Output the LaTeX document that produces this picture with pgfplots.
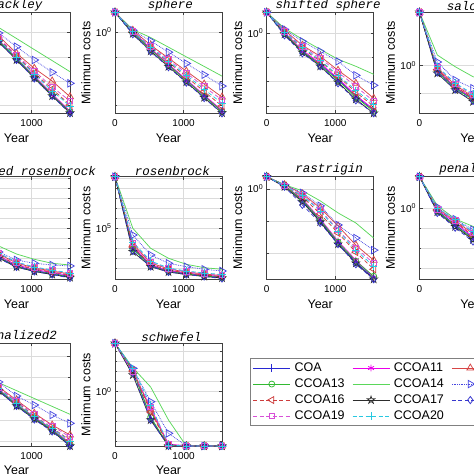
\documentclass[border=0pt]{standalone}
\usepackage{fontspec}
\setmainfont{Liberation Sans}
\newfontfamily\titlefont{Liberation Mono}
\usepackage{pgfplots}
\usepackage{pgfplotstable}
\pgfplotsset{compat=1.18}

\pgfdeclareplotmark{pentagram}{%
  \pgfpathmoveto{\pgfpoint{0pt}{\pgfplotmarksize}}%
  \pgfpathlineto{\pgfpoint{-0.225\pgfplotmarksize}{0.309\pgfplotmarksize}}%
  \pgfpathlineto{\pgfpoint{-0.951\pgfplotmarksize}{0.309\pgfplotmarksize}}%
  \pgfpathlineto{\pgfpoint{-0.363\pgfplotmarksize}{-0.118\pgfplotmarksize}}%
  \pgfpathlineto{\pgfpoint{-0.588\pgfplotmarksize}{-0.809\pgfplotmarksize}}%
  \pgfpathlineto{\pgfpoint{0pt}{-0.382\pgfplotmarksize}}%
  \pgfpathlineto{\pgfpoint{0.588\pgfplotmarksize}{-0.809\pgfplotmarksize}}%
  \pgfpathlineto{\pgfpoint{0.363\pgfplotmarksize}{-0.118\pgfplotmarksize}}%
  \pgfpathlineto{\pgfpoint{0.951\pgfplotmarksize}{0.309\pgfplotmarksize}}%
  \pgfpathlineto{\pgfpoint{0.225\pgfplotmarksize}{0.309\pgfplotmarksize}}%
  \pgfpathclose\pgfusepathqstroke}

\definecolor{cCOA}{RGB}{40,40,210}
\definecolor{c11}{RGB}{235,0,235}
\definecolor{c12}{RGB}{215,70,70}
\definecolor{c13}{RGB}{50,185,50}
\definecolor{c14}{RGB}{90,215,90}
\definecolor{c15}{RGB}{70,70,225}
\definecolor{c16}{RGB}{205,60,60}
\definecolor{c17}{RGB}{45,45,45}
\definecolor{c18}{RGB}{55,55,205}
\definecolor{c19}{RGB}{215,80,215}
\definecolor{c20}{RGB}{40,200,225}

\tikzset{
  serA/.style={color=cCOA, solid, line width=0.75pt, mark=+, mark size=3.6pt},
  serB/.style={color=c11, solid, line width=0.75pt, mark=asterisk, mark size=3.4pt},
  serC/.style={color=c12, solid, line width=0.75pt, mark=triangle, mark size=4pt},
  serD/.style={color=c13, solid, line width=0.75pt, mark=o, mark size=3pt},
  serE/.style={color=c14, solid, line width=0.75pt},
  serF/.style={color=c15, densely dotted, line width=0.75pt, mark=triangle, mark options={solid, rotate=-90}, mark size=4.3pt},
  serG/.style={color=c16, dash pattern=on 4pt off 2.5pt, line width=0.75pt, mark=triangle, mark options={solid, rotate=90}, mark size=4pt},
  serH/.style={color=c17, solid, line width=0.75pt, mark=pentagram, mark size=3.9pt},
  serI/.style={color=c18, dash pattern=on 4pt off 2.5pt, line width=0.75pt, mark=diamond, mark options={solid}, mark size=3.6pt},
  serJ/.style={color=c19, dash pattern=on 4pt off 2.5pt, line width=0.75pt, mark=square, mark options={solid}, mark size=2.8pt},
  serK/.style={color=c20, dash pattern=on 4pt off 2.5pt, line width=0.75pt, mark=+, mark options={solid}, mark size=3.6pt},
}

\pgfplotsset{
  every axis/.append style={
    scale only axis, width=107pt,
    xmin=0, xmax=1560, clip=false,
    xtick={0,1000}, xticklabels={0,1000},
    xmajorgrids, ymajorgrids, yminorgrids,
    major grid style={line width=0.45pt, draw=gray!28},
    minor grid style={line width=0.45pt, draw=gray!28},
    axis line style={draw=black!75, line width=0.6pt},
    tick style={draw=black!75, line width=0.5pt},
    tick align=inside, major tick length=3pt, minor tick length=1.8pt,
    tick label style={font=\fontsize{10}{12}\selectfont},
    xticklabel style={inner sep=0pt, yshift=-6pt},
    xlabel={Year}, ylabel={Minimum costs},
    label style={font=\fontsize{12.5}{15}\selectfont},
    xlabel style={at={(axis description cs:0.5,0)}, anchor=north, inner sep=0pt, yshift=-20pt},
    ylabel style={at={(axis description cs:-0.271,0.5)}, anchor=center, inner sep=0pt},
    every axis title/.style={font=\titlefont\itshape\fontsize{12.5}{15}\selectfont, at={(axis description cs:0.5,1)}, anchor=south, inner sep=1pt},
  }
}

\newcommand\plotall[1]{%
  \addplot[serA] table[x=x,y=a]{#1};
  \addplot[serB] table[x=x,y=b]{#1};
  \addplot[serC] table[x=x,y=c]{#1};
  \addplot[serD] table[x=x,y=d]{#1};
  \addplot[serE] table[x=x,y=e]{#1};
  \addplot[serF] table[x=x,y=f]{#1};
  \addplot[serG] table[x=x,y=g]{#1};
  \addplot[serH] table[x=x,y=h]{#1};
  \addplot[serI] table[x=x,y=i]{#1};
  \addplot[serJ] table[x=x,y=j]{#1};
  \addplot[serK] table[x=x,y=k]{#1};
}

% columns: a=COA b=CCOA11 c=CCOA12 d=CCOA13 e=CCOA14 f=CCOA15 g=CCOA16 h=CCOA17 i=CCOA18 j=CCOA19 k=CCOA20
\pgfplotstableread{
x a b c d e f g h i j k
0 100 100 100 100 100 100 100 100 100 100 100
260 6.76 7.59 10.7 6.76 33.9 10.7 8.51 6.03 6.03 8.51 7.59
520 1.35e-1 1.70e-1 4.27e-1 1.35e-1 3.02 8.51e-1 2.14e-1 1.07e-1 1.07e-1 2.69e-1 1.70e-1
780 2.14e-3 2.69e-3 7.94e-3 2.40e-3 2.40e-1 3.63e-2 4.27e-3 1.70e-3 1.70e-3 5.37e-3 3.39e-3
1040 3.39e-5 4.27e-5 2.51e-4 3.39e-5 1.86e-2 1.70e-3 8.51e-5 2.69e-5 2.40e-5 1.35e-4 6.76e-5
1300 5.37e-7 6.76e-7 1.35e-5 5.37e-7 1.48e-3 1e-4 2.14e-6 4.27e-7 4.27e-7 3.39e-6 1.35e-6
1560 1.07e-8 1.35e-8 3.63e-7 1.07e-8 1.15e-4 7.94e-6 5.37e-8 8.51e-9 7.94e-9 1.35e-7 4.27e-8
}\tAckley

\pgfplotstableread{
x a b c d e f g h i j k
0 100 100 100 100 100 100 100 100 100 100 100
260 1 1.26 1.58 0.891 1.86 1.58 1.12 0.708 0.631 1.26 1.12
520 2.0e-2 2.24e-2 5.01e-2 1.78e-2 2.95e-1 1.35e-1 2.82e-2 1.26e-2 1.12e-2 3.98e-2 3.16e-2
780 5.62e-4 6.31e-4 2.51e-3 5.01e-4 3.16e-2 1e-2 1e-3 3.55e-4 3.16e-4 1.78e-3 1.26e-3
1040 1.58e-5 1.78e-5 1.26e-4 1.41e-5 3.39e-3 7.41e-4 3.31e-5 1e-5 8.91e-6 7.94e-5 4.79e-5
1300 4.47e-7 5.01e-7 6.31e-6 3.98e-7 3.72e-4 5.50e-5 1.15e-6 2.82e-7 2.51e-7 3.55e-6 1.91e-6
1560 1.26e-8 1.41e-8 3.16e-7 1.12e-8 3.98e-5 3.98e-6 3.98e-8 7.94e-9 7.41e-9 1.58e-7 7.41e-8
}\tSphere

\pgfplotstableread{
x a b c d e f g h i j k
0 126 126 126 126 126 126 126 126 126 126 126
260 1 1.26 2.0 1 3.16 2.51 1.26 0.794 0.631 1.58 1.26
520 1.58e-2 2.0e-2 6.31e-2 1.58e-2 2.51e-1 1.58e-1 3.16e-2 1.26e-2 1e-2 5.01e-2 3.98e-2
780 7.94e-4 1e-3 5.01e-3 6.31e-4 2.51e-2 1.58e-2 1.58e-3 5.01e-4 5.01e-4 3.16e-3 2.0e-3
1040 2.51e-5 3.16e-5 2.0e-4 2.0e-5 2.51e-3 1.58e-3 5.01e-5 1.26e-5 1e-5 1.26e-4 6.31e-5
1300 5.01e-7 6.31e-7 1e-5 3.98e-7 5.01e-4 6.31e-5 1.26e-6 2.51e-7 2.0e-7 5.01e-6 2.0e-6
1560 2.0e-8 2.51e-8 3.16e-7 1.58e-8 7.94e-5 6.31e-6 5.01e-8 1e-8 1e-8 1.58e-7 7.94e-8
}\tShSphere

\pgfplotstableread{
x a b c d e f g h i j k
0 2.19e5 2.19e5 2.19e5 2.19e5 2.19e5 2.19e5 2.19e5 2.19e5 2.19e5 2.19e5 2.19e5
260 2.95e-1 3.72e-1 5.50e-1 2.63e-1 11.7 2.34 4.17e-1 1.74e-1 2.09e-1 7.41e-1 8.32e-1
520 5.89e-3 7.41e-3 1.17e-2 5.25e-3 7.94e-1 3.72e-2 8.32e-3 3.72e-3 4.17e-3 1.48e-2 1.86e-2
780 4.68e-4 5.89e-4 7.94e-4 4.17e-4 7.94e-2 5.50e-3 5.89e-4 2.51e-4 2.95e-4 1.17e-3 1.48e-3
1040 1.48e-4 1.86e-4 2.34e-4 1.32e-4 2.34e-2 1.86e-3 1.86e-4 9.33e-5 1.05e-4 3.72e-4 4.68e-4
1300 7.41e-5 9.33e-5 1.17e-4 6.61e-5 9.33e-3 7.41e-4 9.33e-5 4.68e-5 5.25e-5 1.66e-4 2.09e-4
1560 3.72e-5 4.68e-5 5.89e-5 3.31e-5 4.68e-3 3.72e-4 4.68e-5 2.34e-5 2.63e-5 8.32e-5 1.05e-4
}\tSalomon

\pgfplotstableread{
x a b c d e f g h i j k
0 1.45e10 1.45e10 1.45e10 1.45e10 1.45e10 1.45e10 1.45e10 1.45e10 1.45e10 1.45e10 1.45e10
260 1.07e4 1.35e4 2.14e4 9.55e3 4.27e5 4.27e4 1.51e4 8.51e3 7.59e3 2.40e4 2.69e4
520 135 170 269 120 1.70e3 427 191 107 95.5 302 339
780 17.0 21.4 33.9 15.1 269 67.6 24.0 13.5 13.5 38.0 42.7
1040 6.03 7.59 10.7 5.37 79.4 31.6 8.51 4.79 4.79 12.0 13.5
1300 3.02 3.80 5.37 2.69 31.6 21.4 4.27 2.40 2.40 6.03 6.76
1560 1.51 1.91 2.69 1.35 21.4 17.0 2.14 1.20 1.07 3.02 3.39
}\tShRosen

\pgfplotstableread{
x a b c d e f g h i j k
0 1.45e10 1.45e10 1.45e10 1.45e10 1.45e10 1.45e10 1.45e10 1.45e10 1.45e10 1.45e10 1.45e10
260 1.07e3 1.70e3 2.69e3 851 1e5 2.14e4 1.35e3 457 537 3.39e3 4.27e3
520 19.1 21.4 33.9 17.0 1e3 214 24.0 14.5 15.1 42.7 53.7
780 5.37 6.03 8.51 4.79 100 31.6 6.76 4.27 4.27 9.55 10.7
1040 3.02 3.39 4.27 2.69 25.1 14.5 3.39 2.40 2.40 4.79 5.37
1300 1.91 2.14 2.69 1.70 11.5 7.94 2.14 1.51 1.51 3.02 3.39
1560 1.35 1.51 1.91 1.20 7.94 5.37 1.51 1.07 0.955 2.14 2.40
}\tRosen

\pgfplotstableread{
x a b c d e f g h i j k
0 15.8 15.8 15.8 15.8 15.8 15.8 15.8 15.8 15.8 15.8 15.8
260 2.0 2.0 2.51 2.0 2.51 2.51 2.0 1.58 1.58 2.0 2.0
520 6.31e-2 1e-1 3.16e-1 7.94e-2 6.31e-1 3.98e-1 1.58e-1 5.01e-2 2.51e-2 2.51e-1 2.0e-1
780 6.31e-4 1e-3 1.26e-2 7.94e-4 6.31e-2 2.0e-2 3.16e-3 5.01e-4 3.98e-4 7.94e-3 6.31e-3
1040 3.98e-6 6.31e-6 2.0e-4 5.01e-6 3.98e-3 2.51e-4 3.98e-5 3.16e-6 3.16e-6 7.94e-5 6.31e-5
1300 5.01e-8 7.94e-8 2.51e-6 6.31e-8 3.98e-4 1.26e-5 5.01e-7 3.98e-8 3.16e-8 1.26e-6 7.94e-7
1560 1.26e-9 1.58e-9 7.94e-8 2.0e-9 1.26e-5 7.94e-7 1e-8 1e-9 1e-9 3.98e-8 2.0e-8
}\tRastrigin

\pgfplotstableread{
x a b c d e f g h i j k
0 1.26e3 1.26e3 1.26e3 1.26e3 1.26e3 1.26e3 1.26e3 1.26e3 1.26e3 1.26e3 1.26e3
260 5.37e-1 6.76e-1 8.51e-1 4.79e-1 1.70 1.20 6.76e-1 3.80e-1 3.16e-1 7.59e-1 8.51e-1
520 2.14e-2 3.39e-2 5.37e-2 1.70e-2 7.94e-2 7.59e-2 4.27e-2 1.35e-2 1.07e-2 6.03e-2 6.76e-2
780 1.07e-3 1.35e-3 2.69e-3 8.51e-4 1.45e-2 6.76e-3 1.70e-3 6.76e-4 4.57e-4 3.39e-3 4.27e-3
1040 1.35e-4 1.70e-4 3.39e-4 1.07e-4 4.27e-3 1.35e-3 2.14e-4 8.51e-5 6.76e-5 4.27e-4 5.37e-4
1300 2.69e-5 3.39e-5 6.76e-5 2.14e-5 1.35e-3 3.39e-4 4.27e-5 1.70e-5 1.35e-5 8.51e-5 1.07e-4
1560 6.76e-6 8.51e-6 1.70e-5 5.37e-6 5.37e-4 1.07e-4 1.07e-5 4.27e-6 3.39e-6 2.14e-5 2.69e-5
}\tPenalized

\pgfplotstableread{
x a b c d e f g h i j k
0 100 100 100 100 100 100 100 100 100 100 100
260 1.35e-1 1.51e-1 2.14e-1 1.35e-1 2.14e-1 3.39e-1 1.70e-1 1.20e-1 1.07e-1 1.91e-1 1.70e-1
520 2.14e-3 2.69e-3 4.27e-3 2.14e-3 1.15e-2 1.35e-2 3.39e-3 1.70e-3 1.70e-3 3.80e-3 3.02e-3
780 6.76e-5 8.51e-5 2.14e-4 7.59e-5 1.86e-3 5.37e-4 1.35e-4 5.37e-5 5.37e-5 1.70e-4 1.07e-4
1040 3.39e-6 4.27e-6 1e-5 3.39e-6 3.02e-4 6.76e-5 5.37e-6 2.69e-6 2.40e-6 8.51e-6 4.79e-6
1300 2.14e-7 2.69e-7 6.76e-7 2.14e-7 4.90e-5 6.76e-6 3.39e-7 1.70e-7 1.51e-7 5.37e-7 3.02e-7
1560 6.76e-9 1.07e-8 6.76e-8 8.51e-9 7.94e-6 1e-6 2.14e-8 5.37e-9 5.37e-9 4.27e-8 1.70e-8
}\tPenalizedTwo

\pgfplotstableread{
x a b c d e f g h i j k
0 6.92e4 6.92e4 6.92e4 6.92e4 6.92e4 6.92e4 6.92e4 6.92e4 6.92e4 6.92e4 6.92e4
260 186 93.3 148 117 250 219 117 46.8 74.1 93.3 219
520 2.34e-3 2.34e-2 1.48e-2 2.95e-3 2.95 1e-1 9.33e-3 1.48e-3 1.48e-3 3.16e-2 4.68e-2
780 3.72e-6 5.89e-6 4.68e-6 3.72e-6 1.48e-3 6.92e-5 4.17e-6 3.72e-6 3.72e-6 5.89e-6 4.68e-6
1040 3.72e-6 3.72e-6 3.72e-6 3.72e-6 3.72e-6 3.72e-6 3.72e-6 3.72e-6 3.72e-6 3.72e-6 3.72e-6
1300 3.72e-6 3.72e-6 3.72e-6 3.72e-6 3.72e-6 3.72e-6 3.72e-6 3.72e-6 3.72e-6 3.72e-6 3.72e-6
1560 3.72e-6 3.72e-6 3.72e-6 3.72e-6 3.72e-6 3.72e-6 3.72e-6 3.72e-6 3.72e-6 3.72e-6 3.72e-6
}\tSchwefel

\begin{document}
\begin{tikzpicture}[x=1pt,y=1pt]
\useasboundingbox (0,0) rectangle (474,474);
\clip (0,0) rectangle (474,474);

% ---------- row 1 ----------
\begin{axis}[ymode=log, at={(-37pt,360.7pt)}, anchor=south west, height=101pt,
  ymin=7.94e-9, ymax=100, ytick={1}, yticklabels={10\textsuperscript{0}},
  minor ytick={3.39e-3,1.26e-5,5.01e-8},
  title={ackley}, title style={xshift=3.5pt}]
\plotall{\tAckley}
\end{axis}

\begin{axis}[ymode=log, at={(115pt,360.7pt)}, anchor=south west, height=101pt,
  ymin=7.41e-9, ymax=100, ytick={1}, yticklabels={10\textsuperscript{0}},
  minor ytick={3.39e-3,1.26e-5,5.01e-8},
  title={sphere}, title style={xshift=2pt}]
\plotall{\tSphere}
\end{axis}

\begin{axis}[ymode=log, at={(266.7pt,360.7pt)}, anchor=south west, height=101pt,
  ymin=1e-8, ymax=126, ytick={1}, yticklabels={10\textsuperscript{0}},
  minor ytick={3.98e-3,1.45e-5,5.37e-8},
  title={shifted sphere}, title style={xshift=8pt}]
\plotall{\tShSphere}
\end{axis}

\begin{axis}[ymode=log, at={(419.5pt,360.7pt)}, anchor=south west, height=101pt,
  ymin=1.74e-5, ymax=2.19e5, ytick={1}, yticklabels={10\textsuperscript{0}},
  minor ytick={1.74e-3},
  title={salomon}]
\plotall{\tSalomon}
\end{axis}

% ---------- row 2 ----------
\begin{axis}[ymode=log, at={(-37pt,194.7pt)}, anchor=south west, height=102.6pt,
  ymin=0.794, ymax=1.45e10, ytick={1e5}, yticklabels={10\textsuperscript{5}},
  minor ytick={1e10,1e9,1e8,1e7,1e6,1e4,1e3,1e2,1e1},
  title={shifted rosenbrock}, title style={xshift=12pt}]
\plotall{\tShRosen}
\end{axis}

\begin{axis}[ymode=log, at={(115pt,194.7pt)}, anchor=south west, height=102.6pt,
  ymin=0.794, ymax=1.45e10, ytick={1e5}, yticklabels={10\textsuperscript{5}},
  minor ytick={1e10,1e9,1e8,1e7,1e6,1e4,1e3,1e2,1e1},
  title={rosenbrock}, title style={xshift=4pt}]
\plotall{\tRosen}
\end{axis}

\begin{axis}[ymode=log, at={(266.7pt,194.7pt)}, anchor=south west, height=102.6pt,
  ymin=1e-9, ymax=15.8, ytick={1}, yticklabels={10\textsuperscript{0}},
  minor ytick={5.75e-4,3.98e-7},
  title={rastrigin}, title style={xshift=9pt}]
\plotall{\tRastrigin}
\end{axis}

\begin{axis}[ymode=log, at={(419.5pt,194.7pt)}, anchor=south west, height=102.6pt,
  ymin=7.94e-8, ymax=1.26e3, ytick={1}, yticklabels={10\textsuperscript{0}},
  minor ytick={1e-2,1e-4,1e-6},
  title={penalized}]
\plotall{\tPenalized}
\end{axis}

% ---------- row 3 ----------
\begin{axis}[ymode=log, at={(-37pt,28pt)}, anchor=south west, height=102.7pt,
  ymin=5.37e-9, ymax=100, ytick={5.37}, yticklabels={10\textsuperscript{0}},
  minor ytick={3.98e-2,2.69e-4,2.14e-6,1.45e-8},
  title={penalized2}, title style={xshift=3pt}]
\plotall{\tPenalizedTwo}
\end{axis}

\begin{axis}[ymode=log, at={(115pt,28pt)}, anchor=south west, height=102.7pt,
  ymin=3.72e-6, ymax=6.92e4, ytick={1}, yticklabels={10\textsuperscript{0}},
  minor ytick={1e4,1e3,1e2,1e1,1e-1,1e-2,1e-3,1e-4,1e-5},
  title={schwefel}, title style={xshift=3pt},
  legend columns=3,
  legend cell align=left,
  legend image code/.code={\draw[mark repeat=2,mark phase=2,#1] plot coordinates {(0pt,0pt) (18.5pt,0pt) (37pt,0pt)};},
  legend style={at={(1.265,0.852)}, anchor=north west, draw=gray, line width=0.5pt, fill=white,
    font=\fontsize{12.5}{14}\selectfont, inner sep=2.3pt, row sep=2pt,
    nodes={inner sep=1.5pt, text height=9pt, text depth=2pt},
    /tikz/every odd column/.append style={column sep=2.5pt},
    /tikz/every even column/.append style={column sep=6pt}}]
\plotall{\tSchwefel}
\legend{COA,CCOA11,CCOA12,CCOA13,CCOA14,CCOA15,CCOA16,CCOA17,CCOA18,CCOA19,CCOA20}
\end{axis}
\end{tikzpicture}
\end{document}
